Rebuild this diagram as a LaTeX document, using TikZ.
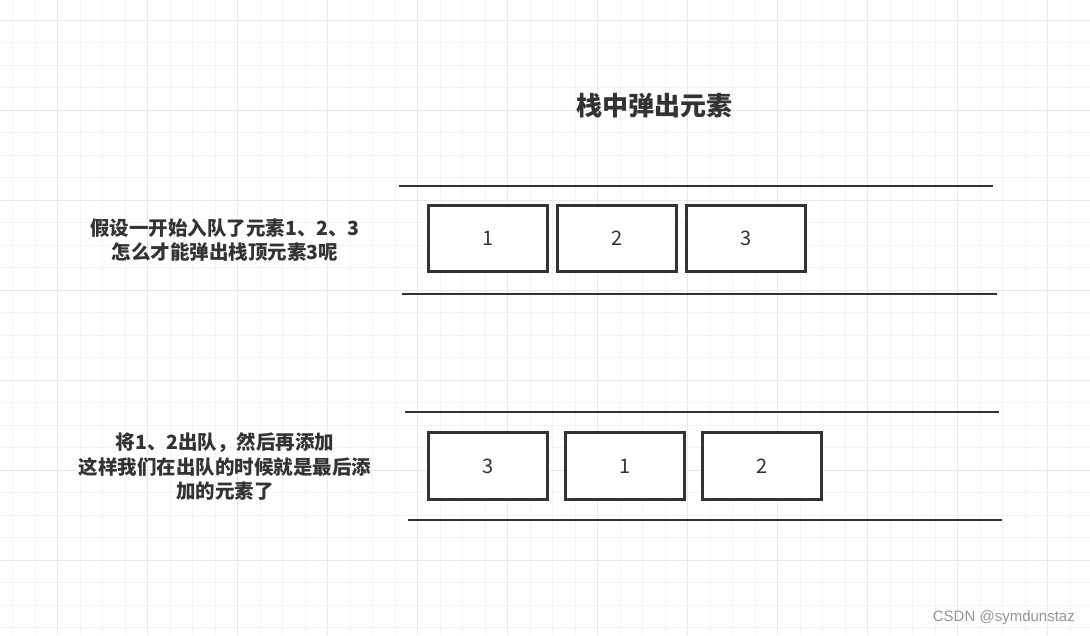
\documentclass[tikz,border=0pt]{standalone}
\usepackage{fontspec}
\setmainfont{Noto Sans CJK SC}
\newfontfamily\markfont{Liberation Sans}
\usepackage{tikz}
\usetikzlibrary{positioning}
\definecolor{qkline}{RGB}{51,51,51}
\definecolor{qktext}{RGB}{51,51,51}
\definecolor{qkgrid}{RGB}{243,243,243}
\definecolor{qkgridmajor}{RGB}{232,232,232}
\definecolor{qkmark}{RGB}{150,150,150}
\tikzset{
  cell/.style     = {rectangle, draw=qkline, line width=2.8pt, fill=white,
                     minimum width=119pt, minimum height=66.5pt, inner sep=0pt,
                     text=qktext, font=\fontsize{20}{20}\selectfont},
  wall/.style     = {draw=qkline, line width=2.8pt},
  note/.style     = {align=center, text=qktext, inner sep=0pt,
                     font=\bfseries\fontsize{19.5}{24.5}\selectfont},
  heading/.style  = {text=qktext, inner sep=0pt, font=\bfseries\fontsize{26}{26}\selectfont},
  watermark/.style= {text=qkmark, inner sep=0pt, font=\markfont\fontsize{15}{15}\selectfont},
}
\begin{document}
\begin{tikzpicture}[x=1pt, y=-1pt]
  \useasboundingbox[fill=white] (0,0) rectangle (1090,635);
  % background grid
  \foreach \gx in {12.5,35,...,1090} \draw[qkgrid, line width=1pt] (\gx,0) -- (\gx,635);
  \foreach \gy in {-2.5,20,...,635} \draw[qkgrid, line width=1pt] (0,\gy) -- (1090,\gy);
  \foreach \gx in {57.5,147.5,...,1090} \draw[qkgridmajor, line width=1pt] (\gx,0) -- (\gx,635);
  \foreach \gy in {20,110,...,635} \draw[qkgridmajor, line width=1pt] (0,\gy) -- (1090,\gy);

  \node[heading] (title) at (654,106) {栈中弹出元素};

  % first queue
  \draw[wall] (399,186) -- (993,186);
  \draw[wall] (402,294) -- (997,294);
  \node[cell] (a1) at (488,238.5) {1};
  \node[cell, right=7pt of a1] (a2) {2};
  \node[cell, right=7pt of a2] (a3) {3};
  \node[note] (q1) at (225,240) {假设一开始入队了元素1、2、3\\怎么才能弹出栈顶元素3呢};

  % second queue
  \draw[wall] (405,412) -- (999,412);
  \draw[wall] (408,520) -- (1002,520);
  \node[cell] (b1) at (488,466) {3};
  \node[cell, right=15pt of b1] (b2) {1};
  \node[cell, right=15pt of b2] (b3) {2};
  \node[note] (q2) at (225,467) {将1、2出队，然后再添加\\这样我们在出队的时候就是最后添\\加的元素了};

  \node[watermark, anchor=east] (mark) at (1075,618) {CSDN @symdunstaz};
\end{tikzpicture}
\end{document}
